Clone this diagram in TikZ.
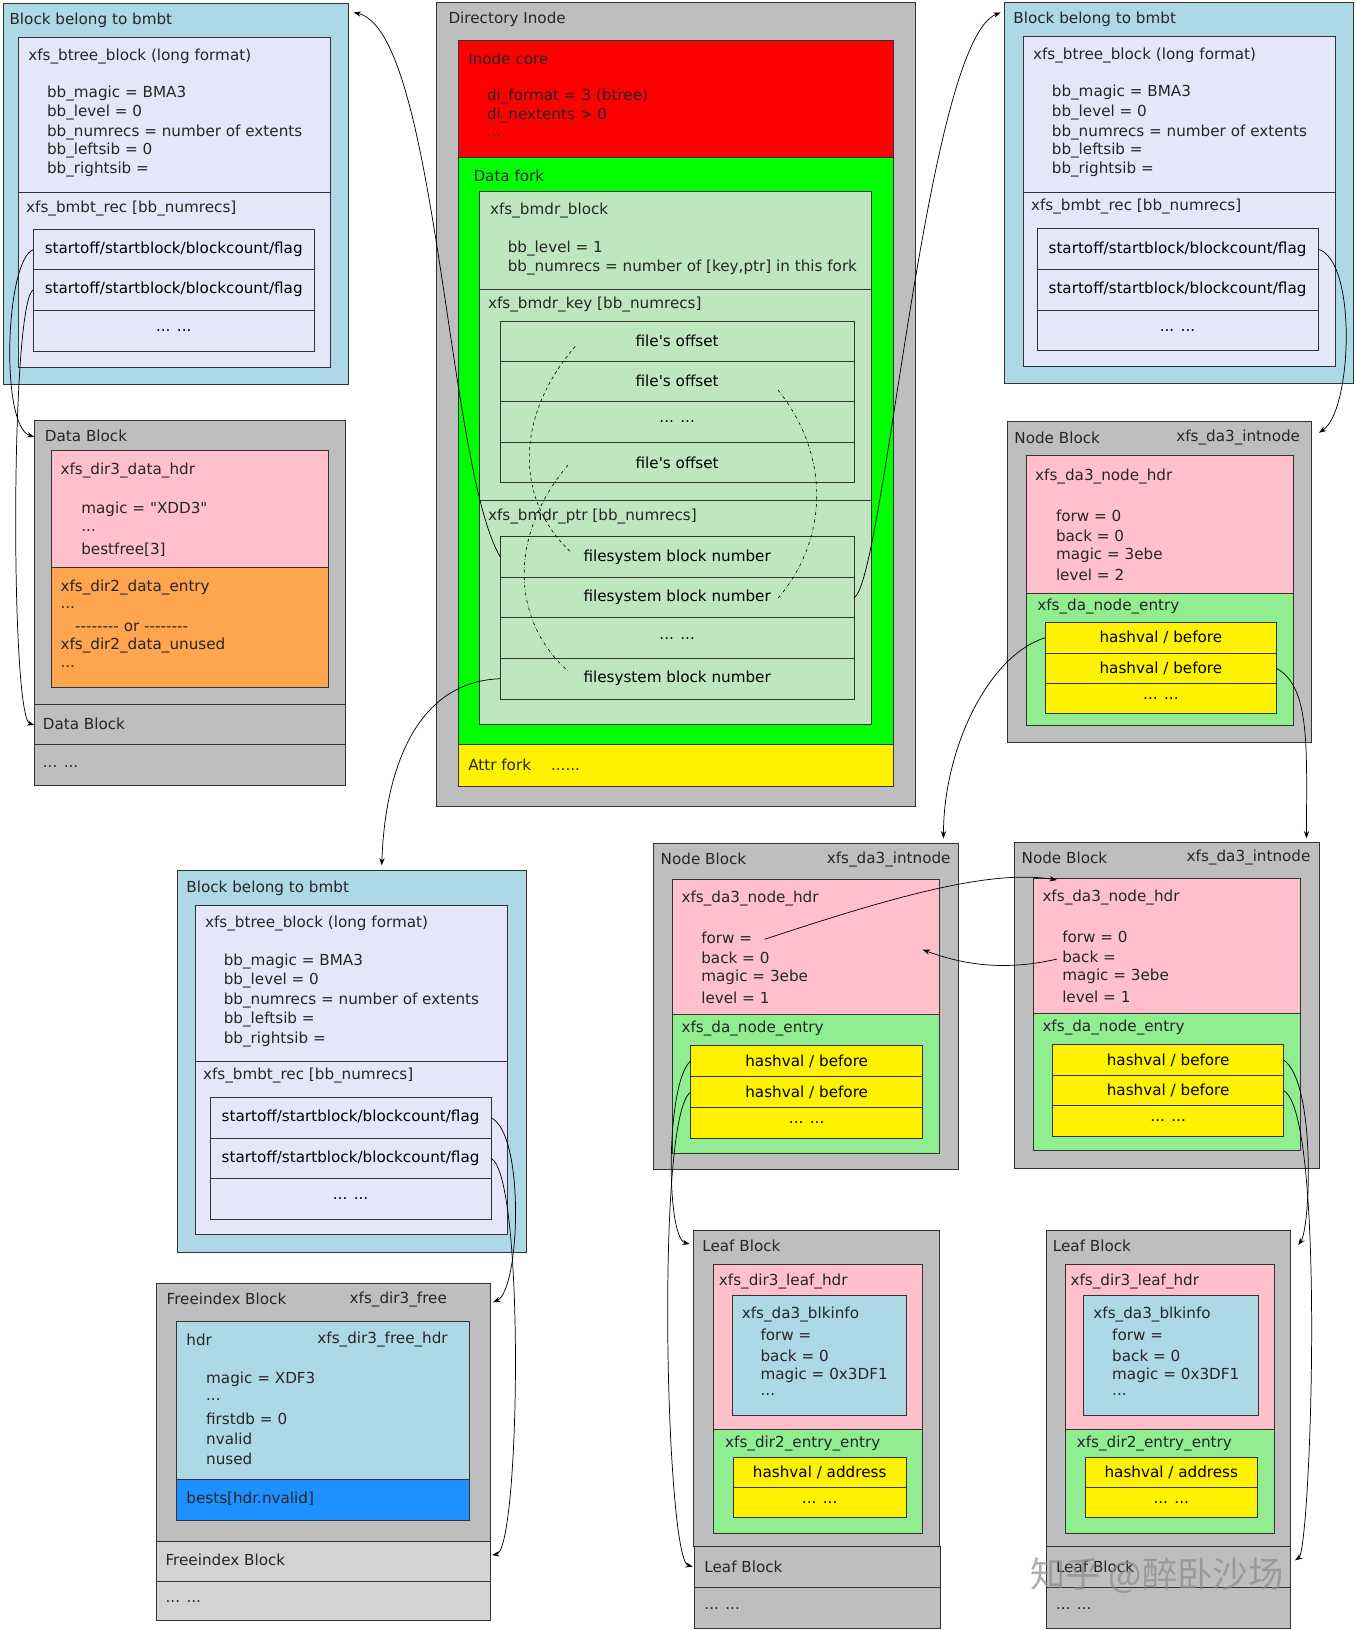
\documentclass[tikz,border=0pt]{standalone}
\usepackage{fontspec}
\setmainfont{DejaVu Sans}[Ligatures=TeXOff]
\newfontfamily\cjk{Noto Sans CJK SC}
\usetikzlibrary{arrows.meta}
\definecolor{lblue}{HTML}{ADD8E6}
\definecolor{lav}{HTML}{E6E6FA}
\definecolor{gry}{HTML}{BEBEBE}
\definecolor{pnk}{HTML}{FFC0CB}
\definecolor{orng}{HTML}{FFA54F}
\definecolor{bgreen}{HTML}{C0E6C0}
\definecolor{ngreen}{HTML}{90EE90}
\definecolor{dblue}{HTML}{1E90FF}
\definecolor{lgry}{HTML}{D3D3D3}
\newcounter{tn}
\newcommand\bx[6]{\node[box,fill=#2,minimum width={(#5-#3)*1pt},minimum height={(#6-#4)*1pt},anchor=north west] (#1) at (#3,#4) {};}
\newcommand\rw[7]{\node[box,fill=#2,minimum width={(#5-#3)*1pt},minimum height={(#6-#4)*1pt},anchor=north west,font=\fontsize{14.6}{16}\selectfont] (#1) at (#3,#4) {#7};}
\newcommand\tx[3]{\stepcounter{tn}\node[txt] (t\thetn) at (#1,#2) {#3};}
\newcommand\te[3]{\stepcounter{tn}\node[txt,anchor=east] (t\thetn) at (#1,#2) {#3};}
\begin{document}
\begin{tikzpicture}[x=1pt,y=-1pt,
 box/.style={draw=black!80,line width=0.8pt,inner sep=0pt,outer sep=0pt},
 txt/.style={anchor=west,inner sep=0pt,font=\fontsize{14.6}{16}\selectfont,text=black!85},
 arr/.style={-{Stealth[length=7pt,width=5pt]},line width=0.7pt}]
\useasboundingbox (0,0) rectangle (1303,1567);
% ---- top-left bmbt
\bx{tl}{lblue}{3}{3}{335}{370}
\tx{9}{20}{Block belong to bmbt}
\bx{tlv}{lav}{18}{36}{318}{353}
\draw[black!80,line width=0.8pt] (18,185) -- (318,185);
\tx{27}{54}{xfs\_btree\_block (long format)}
\tx{45}{90}{bb\_magic = BMA3}
\tx{45}{108}{bb\_level = 0}
\tx{45}{127}{bb\_numrecs = number of extents}
\tx{45}{145}{bb\_leftsib = 0}
\tx{45}{163}{bb\_rightsib =}
\tx{25}{200}{xfs\_bmbt\_rec [bb\_numrecs]}
\rw{tlr1}{lav}{32}{221}{302}{259}{startoff/startblock/blockcount/flag}
\rw{tlr2}{lav}{32}{259}{302}{298}{startoff/startblock/blockcount/flag}
\rw{tlr3}{lav}{32}{298}{302}{338}{... ...}
% ---- data block
\bx{db}{gry}{33}{404}{332}{677}
\tx{43}{419}{Data Block}
\bx{dbh}{pnk}{49}{433}{316}{545}
\tx{58}{452}{xfs\_dir3\_data\_hdr}
\tx{78}{490}{magic = "XDD3"}
\tx{78}{510}{...}
\tx{78}{528}{bestfree[3]}
\bx{dbe}{orng}{49}{545}{316}{661}
\tx{58}{565}{xfs\_dir2\_data\_entry}
\tx{58}{584}{...}
\tx{72}{603}{-------- or --------}
\tx{58}{621}{xfs\_dir2\_data\_unused}
\tx{58}{641}{...}
\bx{db2}{gry}{33}{677}{332}{716}
\tx{41}{696}{Data Block}
\bx{db3}{gry}{33}{716}{332}{755}
\tx{41}{737}{... ...}
% ---- directory inode
\bx{di}{gry}{420}{2}{880}{775}
\tx{431}{19}{Directory Inode}
\bx{ic}{red}{441}{39}{859}{151}
\tx{450}{57}{Inode core}
\tx{468}{93}{di\_format = 3 (btree)}
\tx{468}{111}{di\_nextents > 0}
\tx{468}{130}{...}
\bx{df}{green}{441}{151}{859}{716}
\tx{455}{169}{Data fork}
\bx{bm}{bgreen}{461}{184}{838}{696}
\draw[black!80,line width=0.8pt] (461,278) -- (838,278) (461,481) -- (838,481);
\tx{471}{202}{xfs\_bmdr\_block}
\tx{488}{239}{bb\_level = 1}
\tx{488}{257}{bb\_numrecs = number of [key,ptr] in this fork}
\tx{469}{293}{xfs\_bmdr\_key [bb\_numrecs]}
\rw{k1}{bgreen}{481}{309}{821}{347}{file's offset}
\rw{k2}{bgreen}{481}{347}{821}{386}{file's offset}
\rw{k3}{bgreen}{481}{386}{821}{425}{... ...}
\rw{k4}{bgreen}{481}{425}{821}{464}{file's offset}
\tx{469}{497}{xfs\_bmdr\_ptr [bb\_numrecs]}
\rw{p1}{bgreen}{481}{516}{821}{555}{filesystem block number}
\rw{p2}{bgreen}{481}{555}{821}{594}{filesystem block number}
\rw{p3}{bgreen}{481}{594}{821}{633}{... ...}
\rw{p4}{bgreen}{481}{633}{821}{672}{filesystem block number}
\bx{af}{yellow}{441}{716}{859}{756}
\tx{450}{735}{Attr fork\quad\ ......}
\draw[dashed,line width=0.6pt] (553,333) .. controls (495,400) and (495,480) .. (548,530);
\draw[dash dot,line width=0.6pt] (748,375) .. controls (800,440) and (795,520) .. (748,575);
\draw[dash dot,line width=0.6pt] (546,447) .. controls (485,520) and (495,600) .. (546,645);
% ---- top-right bmbt
\bx{tr}{lblue}{966}{2}{1301}{369}
\tx{974}{19}{Block belong to bmbt}
\bx{trv}{lav}{984}{35}{1284}{352}
\draw[black!80,line width=0.8pt] (984,185) -- (1284,185);
\tx{993}{53}{xfs\_btree\_block (long format)}
\tx{1011}{89}{bb\_magic = BMA3}
\tx{1011}{108}{bb\_level = 0}
\tx{1011}{127}{bb\_numrecs = number of extents}
\tx{1011}{145}{bb\_leftsib =}
\tx{1011}{163}{bb\_rightsib =}
\tx{991}{199}{xfs\_bmbt\_rec [bb\_numrecs]}
\rw{trr1}{lav}{997}{220}{1267}{259}{startoff/startblock/blockcount/flag}
\rw{trr2}{lav}{997}{259}{1267}{298}{startoff/startblock/blockcount/flag}
\rw{trr3}{lav}{997}{298}{1267}{337}{... ...}
% ---- node block top right
\bx{n2}{gry}{968}{405}{1261}{714}
\tx{975}{421}{Node Block}
\te{1250}{421}{xfs\_da3\_intnode}
\bx{n2h}{pnk}{987}{438}{1243}{570}
\tx{995}{458}{xfs\_da3\_node\_hdr}
\tx{1015}{496}{forw = 0}
\tx{1015}{515}{back = 0}
\tx{1015}{534}{magic = 3ebe}
\tx{1015}{553}{level = 2}
\bx{n2e}{ngreen}{987}{570}{1243}{697}
\tx{997}{583}{xfs\_da\_node\_entry}
\rw{n2a}{yellow}{1005}{598}{1227}{628}{hashval / before}
\rw{n2b}{yellow}{1005}{628}{1227}{657}{hashval / before}
\rw{n2c}{yellow}{1005}{657}{1227}{686}{... ...}
% ---- node block mid
\bx{nm}{gry}{628}{811}{921}{1124}
\tx{635}{826}{Node Block}
\te{914}{826}{xfs\_da3\_intnode}
\bx{nmh}{pnk}{646}{845}{903}{975}
\tx{655}{864}{xfs\_da3\_node\_hdr}
\tx{674}{902}{forw =}
\tx{674}{921}{back = 0}
\tx{674}{940}{magic = 3ebe}
\tx{674}{959}{level = 1}
\bx{nme}{ngreen}{646}{975}{903}{1109}
\tx{655}{989}{xfs\_da\_node\_entry}
\rw{nma}{yellow}{664}{1005}{887}{1035}{hashval / before}
\rw{nmb}{yellow}{664}{1035}{887}{1065}{hashval / before}
\rw{nmc}{yellow}{664}{1065}{887}{1094}{... ...}
% ---- node block right
\bx{nr}{gry}{975}{810}{1268}{1123}
\tx{982}{825}{Node Block}
\te{1260}{824}{xfs\_da3\_intnode}
\bx{nrh}{pnk}{993}{844}{1250}{974}
\tx{1002}{863}{xfs\_da3\_node\_hdr}
\tx{1021}{901}{forw = 0}
\tx{1021}{920}{back =}
\tx{1021}{939}{magic = 3ebe}
\tx{1021}{958}{level = 1}
\bx{nre}{ngreen}{993}{974}{1250}{1106}
\tx{1002}{988}{xfs\_da\_node\_entry}
\rw{nra}{yellow}{1012}{1004}{1234}{1034}{hashval / before}
\rw{nrb}{yellow}{1012}{1034}{1234}{1063}{hashval / before}
\rw{nrc}{yellow}{1012}{1063}{1234}{1092}{... ...}
% ---- bottom-left bmbt
\bx{bl}{lblue}{171}{837}{506}{1204}
\tx{179}{854}{Block belong to bmbt}
\bx{blv}{lav}{188}{870}{488}{1187}
\draw[black!80,line width=0.8pt] (188,1020) -- (488,1020);
\tx{197}{888}{xfs\_btree\_block (long format)}
\tx{215}{924}{bb\_magic = BMA3}
\tx{215}{943}{bb\_level = 0}
\tx{215}{962}{bb\_numrecs = number of extents}
\tx{215}{980}{bb\_leftsib =}
\tx{215}{999}{bb\_rightsib =}
\tx{195}{1034}{xfs\_bmbt\_rec [bb\_numrecs]}
\rw{blr1}{lav}{202}{1055}{472}{1094}{startoff/startblock/blockcount/flag}
\rw{blr2}{lav}{202}{1094}{472}{1133}{startoff/startblock/blockcount/flag}
\rw{blr3}{lav}{202}{1133}{472}{1172}{... ...}
% ---- freeindex
\bx{fi}{gry}{150}{1234}{471}{1482}
\tx{160}{1249}{Freeindex Block}
\tx{336}{1249}{xfs\_dir3\_free}
\bx{fih}{lblue}{170}{1270}{451}{1422}
\tx{179}{1288}{hdr}
\tx{305}{1288}{xfs\_dir3\_free\_hdr}
\tx{198}{1326}{magic = XDF3}
\tx{198}{1345}{...}
\tx{198}{1364}{firstdb = 0}
\tx{198}{1383}{nvalid}
\tx{198}{1402}{nused}
\bx{fib}{dblue}{170}{1422}{451}{1462}
\tx{179}{1441}{bests[hdr.nvalid]}
\bx{fi2}{lgry}{150}{1482}{471}{1520}
\tx{159}{1500}{Freeindex Block}
\bx{fi3}{lgry}{150}{1520}{471}{1558}
\tx{159}{1540}{... ...}
% ---- leaf mid
\bx{lm}{gry}{667}{1183}{903}{1487}
\tx{675}{1198}{Leaf Block}
\bx{lmh}{pnk}{686}{1216}{887}{1374}
\tx{691}{1232}{xfs\_dir3\_leaf\_hdr}
\bx{lmi}{lblue}{704}{1245}{871}{1361}
\tx{713}{1264}{xfs\_da3\_blkinfo}
\tx{731}{1283}{forw =}
\tx{731}{1303}{back = 0}
\tx{731}{1322}{magic = 0x3DF1}
\tx{731}{1341}{...}
\bx{lme}{ngreen}{686}{1374}{887}{1474}
\tx{697}{1388}{xfs\_dir2\_entry\_entry}
\rw{lma}{yellow}{705}{1401}{871}{1430}{hashval / address}
\rw{lmb}{yellow}{705}{1430}{871}{1459}{... ...}
\bx{lm2}{gry}{668}{1487}{904}{1526}
\tx{677}{1506}{Leaf Block}
\bx{lm3}{gry}{668}{1526}{904}{1565}
\tx{677}{1546}{... ...}
% ---- leaf right
\bx{lr}{gry}{1006}{1183}{1241}{1487}
\tx{1012}{1198}{Leaf Block}
\bx{lrh}{pnk}{1024}{1216}{1225}{1374}
\tx{1029}{1232}{xfs\_dir3\_leaf\_hdr}
\bx{lri}{lblue}{1042}{1245}{1210}{1361}
\tx{1051}{1264}{xfs\_da3\_blkinfo}
\tx{1069}{1283}{forw =}
\tx{1069}{1303}{back = 0}
\tx{1069}{1322}{magic = 0x3DF1}
\tx{1069}{1341}{...}
\bx{lre}{ngreen}{1024}{1374}{1225}{1474}
\tx{1035}{1388}{xfs\_dir2\_entry\_entry}
\rw{lra}{yellow}{1043}{1401}{1209}{1430}{hashval / address}
\rw{lrb}{yellow}{1043}{1430}{1209}{1459}{... ...}
\bx{lr2}{gry}{1006}{1487}{1241}{1526}
\tx{1015}{1506}{Leaf Block}
\bx{lr3}{gry}{1006}{1526}{1241}{1565}
\tx{1015}{1546}{... ...}
% ---- connectors
\coordinate (a1) at (340,12);
\draw[arr] (p1.west) .. controls (430,450) and (420,30) .. (a1);
\coordinate (a2) at (962,12);
\draw[arr] (p2.east) .. controls (850,560) and (890,40) .. (a2);
\coordinate (a3) at (367,832);
\draw[arr] (p4.west) .. controls (400,655) and (370,740) .. (a3);
\draw[arr] (tlr1.west) .. controls (5,250) and (0,410) .. ([yshift=-16pt]db.north west);
\draw[arr] (tlr2.west) .. controls (10,290) and (10,690) .. ([yshift=-1pt]db2.north west |- 0,696);
\draw[arr] (trr1.east) .. controls (1305,250) and (1300,395) .. (1268,416);
\draw[arr] (n2a.west) .. controls (950,630) and (907,720) .. (907,806);
\draw[arr] (n2b.east) .. controls (1260,660) and (1256,720) .. (1256,806);
\coordinate (f1) at (735,903);
\draw[arr] (f1) .. controls (850,865) and (950,835) .. (1016,846);
\coordinate (b1) at (1016,922);
\draw[arr] (b1) .. controls (960,935) and (920,925) .. (887,913);
\draw[arr] (nma.west) .. controls (640,1040) and (640,1190) .. (663,1196);
\draw[arr] (nmb.west) .. controls (630,1070) and (640,1500) .. (666,1506);
\draw[arr] (nra.east) .. controls (1265,1040) and (1260,1180) .. (1248,1197);
\draw[arr] (nrb.east) .. controls (1275,1070) and (1260,1490) .. (1245,1500);
\draw[arr] (blr1.east) .. controls (505,1090) and (500,1240) .. (474,1252);
\draw[arr] (blr2.east) .. controls (505,1130) and (500,1490) .. (473,1495);
\node[font=\cjk\fontsize{34}{34}\selectfont,text=black!45,opacity=0.7,anchor=west,inner sep=0pt] (wm) at (990,1515) {知乎 @醉卧沙场};
\end{tikzpicture}
\end{document}
